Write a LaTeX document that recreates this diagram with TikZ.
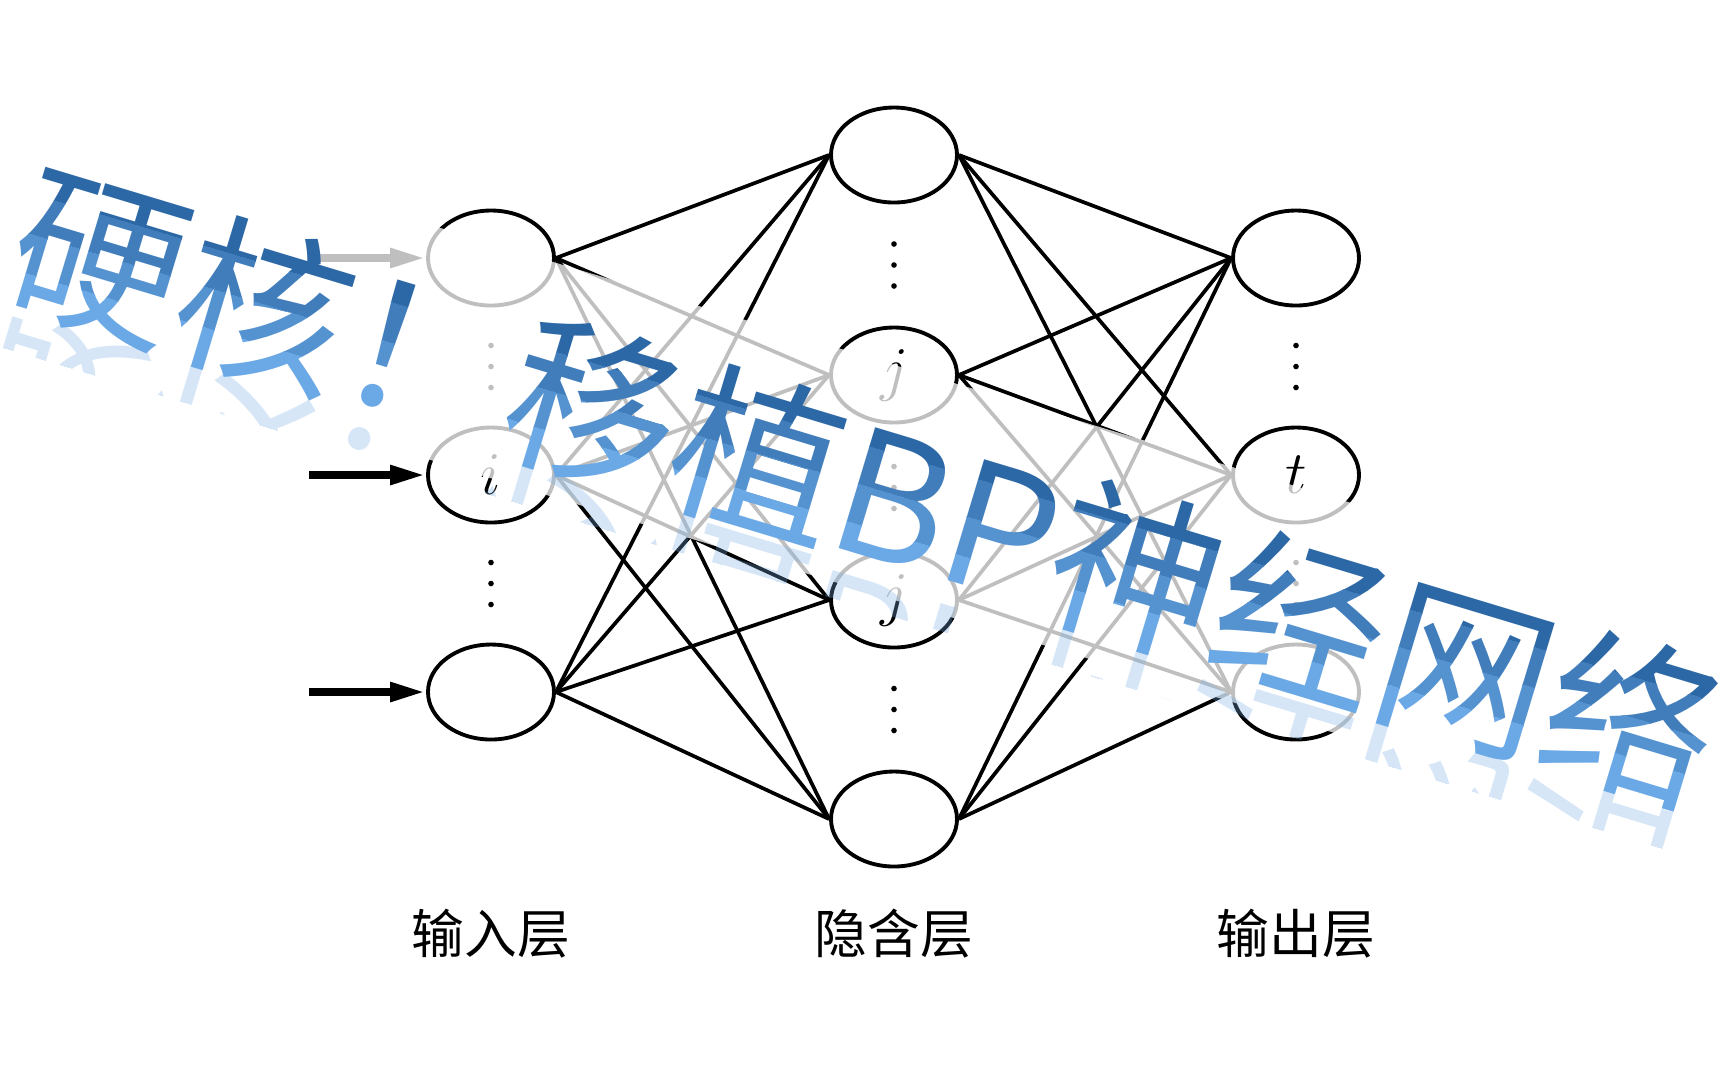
\documentclass[tikz,border=0pt]{standalone}
\usepackage{fontspec}
\usepackage{tikz}
\usetikzlibrary{positioning,arrows.meta,calc,shapes.geometric}
\newfontfamily\cjkfont{Noto Sans CJK SC}
\definecolor{wmdark}{RGB}{45,104,166}
\definecolor{wmlight}{RGB}{106,168,230}
\definecolor{wmshadow}{RGB}{120,175,230}
\newcommand{\wmtext}{硬核！移植BP神经网络}
\newcommand{\wmfont}{\cjkfont\fontsize{49}{56}\selectfont}

\begin{document}
\begin{tikzpicture}[x=0.1mm, y=-0.1mm,
  neuron/.style={ellipse, draw=black, fill=white, line width=1.1pt, minimum width=12.6mm, minimum height=9.5mm, inner sep=0pt, font=\fontsize{16.5}{20}\selectfont},
  conn/.style={line width=1.05pt},
  inarr/.style={line width=2.3pt, -{Triangle[length=3.6mm, width=1.8mm]}},
  layer/.style={font=\cjkfont\fontsize{15}{18}\selectfont, inner sep=0pt},
  wm/.style={font=\wmfont, inner sep=0pt}]
\fill[white] (0,0) rectangle (1728,1080);
\useasboundingbox (0,0) rectangle (1728,1080);
% input layer
\node[neuron] (in1) at (491,258) {};
\node[neuron] (in2) at (491,475) {$i$};
\node[neuron] (in3) at (491,692) {};
% hidden layer
\node[neuron] (hid1) at (894,155) {};
\node[neuron] (hid2) at (894,375) {$j$};
\node[neuron] (hid3) at (894,600) {$j$};
\node[neuron] (hid4) at (894,819) {};
% output layer
\node[neuron] (out1) at (1296,258) {};
\node[neuron] (out2) at (1296,475) {$t$};
\node[neuron] (out3) at (1296,692) {};
% weights
\foreach \a in {in1,in2,in3}
  \foreach \b in {hid1,hid2,hid3,hid4}
    \draw[conn] (\a.east) -- (\b.west);
\foreach \a in {hid1,hid2,hid3,hid4}
  \foreach \b in {out1,out2,out3}
    \draw[conn] (\a.east) -- (\b.west);
% inputs
\coordinate (src1) at (309,258);
\coordinate (src2) at (309,475);
\coordinate (src3) at (309,692);
\draw[inarr] (src1) -- (in1);
\draw[inarr] (src2) -- (in2);
\draw[inarr] (src3) -- (in3);
% vertical dots
\foreach \a/\b in {in1/in2,in2/in3,hid1/hid2,hid2/hid3,hid3/hid4,out1/out2,out2/out3}
  \foreach \dy in {-21,0,21}
    \fill ($(\a)!.5!(\b)+(0,\dy)$) circle (0.28mm);
\node[layer] (lin) at (491,934) {输入层};
\node[layer] (lhid) at (894,934) {隐含层};
\node[layer] (lout) at (1296,934) {输出层};
% title overlay
\begin{scope}[transform canvas={shift={(866,487)}, rotate=-16.8}]
  \fill[white, opacity=.75] (-1200,-125) rectangle (1200,100);
  % reflection
  \begin{scope}
    \clip (-1000,78) rectangle (1000,116);
    \node[wm, text=wmshadow, text opacity=.3, yscale=-1] (wmr) at (0,156) {\wmtext};
  \end{scope}
  % title, dark at the top and light at the bottom
  \foreach \k/\lo/\hi in {0/-130/-39,1/-40/0,2/-1/39,3/38/100} {
    \pgfmathtruncatemacro{\pct}{33.4*\k}
    \begin{scope}
      \clip (-1000,\lo) rectangle (1000,\hi);
      \node[wm, text=wmlight!\pct!wmdark] (wm\k) at (0,0) {\wmtext};
    \end{scope}
  }
\end{scope}
\end{tikzpicture}
\end{document}
